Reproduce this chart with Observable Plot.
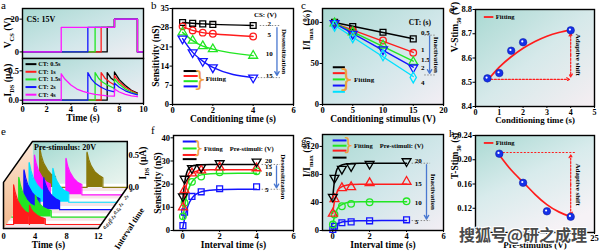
<!DOCTYPE html>
<html><head><meta charset="utf-8">
<script src="https://cdn.jsdelivr.net/npm/d3@7"></script>
<script src="https://cdn.jsdelivr.net/npm/@observablehq/plot@0.6"></script>
<style>
html,body{margin:0;padding:0;background:#fff;}
#root{position:relative;width:600px;height:252px;overflow:hidden;background:#fff;}
.lt{position:absolute;font-family:"Liberation Serif","Times New Roman",serif;font-size:11px;line-height:11px;}
.wm{position:absolute;font-family:"Noto Sans CJK SC",sans-serif;font-size:16px;line-height:16px;color:#4a4a4a;font-weight:bold;
 text-shadow:1px 1px 0 #fff,-1px -1px 0 #fff,1px -1px 0 #fff,-1px 1px 0 #fff;white-space:nowrap;}
</style></head><body><div id="root"></div>
<script>
// ---------------- DATA ----------------
// (a) conditioning-time protocol
const aCT = ["0.5s","1s","1.5s","2s","4s"];
const aStart = [7.0, 6.5, 6.0, 5.4, 3.2];
const aCondV = 15, aTestV = 20, aTestOn = 7.6, aTestOff = 9.5, aTmax = 10;
const aIdsT = [
  [0,7.0,7.0,7.3,7.6,7.6,8.0,8.5,9.0,9.5],
  [0,6.5,6.5,6.8,7.2,7.6,7.6,8.0,8.5,9.0,9.5],
  [0,6.0,6.0,6.3,6.6,7.0,7.6,7.6,8.0,8.5,9.0,9.5],
  [0,5.4,5.4,5.7,6.0,6.5,7.0,7.6,7.6,8.0,8.5,9.0,9.5],
  [0,3.2,3.2,3.5,4.0,4.5,5.0,5.5,6.0,6.5,7.0,7.6,7.6,8.0,8.5,9.0,9.5]
];
const aIdsI = [
  [0,0,0.47,0.38,0.33,0.48,0.35,0.25,0.17,0.12],
  [0,0,0.47,0.38,0.31,0.26,0.42,0.31,0.22,0.16,0.11],
  [0,0,0.47,0.37,0.31,0.26,0.20,0.36,0.27,0.19,0.14,0.10],
  [0,0,0.47,0.36,0.29,0.22,0.17,0.14,0.29,0.22,0.16,0.12,0.09],
  [0,0,0.45,0.36,0.26,0.19,0.15,0.12,0.10,0.085,0.075,0.07,0.19,0.14,0.10,0.075,0.06]
];
// (b) sensitivity vs conditioning time
const bTimes = [0.5, 1, 1.5, 2, 4];
const bCS = ["2","5","10","15"];
const bSens = [
  [29.9,29.6,29.4,29.2,28.8],
  [28.5,27.0,26.2,25.8,24.8],
  [26.3,23.3,21.3,20.2,17.8],
  [24.0,19.0,15.8,13.5,9.8]
];
// (c) I/Imax vs conditioning stimulus
const cStim = [2, 5, 10, 15];
const cCT = ["0.5","1","1.5","2","4"];
const cRatio = [
  [100,95,88,80],
  [99,90,78,63],
  [99,88,72,52],
  [99,86,67,45],
  [96,82,60,33]
];
// (d) V-Stim50 vs conditioning time
const dTimes = [0.5, 1, 1.5, 2, 4];
const dVstim = [8.516, 8.538, 8.630, 8.665, 8.714];
const dFitT = [0.5, 1, 1.5, 2, 2.5, 3, 3.5, 4];
const dFitV = [8.507, 8.562, 8.605, 8.640, 8.668, 8.690, 8.705, 8.716];
// (e) waterfall of interval-time responses
const eIntervals = ["0.01s","0.1s","0.5s","1s","2s","4s"];
const eIntervalS = [0.01, 0.1, 0.5, 1, 2, 4];
const ePulseT = [0, 0.2, 0.5, 1, 1.5, 2];
const ePre = [0.62, 0.50, 0.38, 0.27, 0.20, 0.17];
const eTest = [
  [0.30,0.24,0.19,0.14,0.11,0.09],
  [0.34,0.27,0.21,0.15,0.12,0.10],
  [0.50,0.40,0.31,0.22,0.17,0.14],
  [0.53,0.42,0.33,0.23,0.18,0.15],
  [0.57,0.45,0.35,0.25,0.19,0.16],
  [0.55,0.44,0.34,0.24,0.19,0.15]
];
const ePreOn = 0.9, eTmax = 12, eTicks = [0, 4, 8, 12], eYTicks = [0, 0.5];
// (f),(g) vs interval time
const fgInterval = [0.01, 0.1, 0.5, 1, 2, 4];
const fgPre = ["5","10","15","20"];
const fSens = [
  [2.1, 7.9, 14.7, 16.7, 18.0, 18.9],
  [6.1, 12.0, 21.0, 23.3, 25.1, 25.6],
  [10.0, 17.5, 24.7, 26.0, 27.3, 26.9],
  [14.7, 22.3, 26.9, 27.3, 29.0, 29.7]
];
const fitX = [0, 0.1, 0.2, 0.3, 0.5, 0.75, 1, 1.5, 2, 3, 4];
const fFit = [
  [1, 5, 8.5, 11, 14, 15.8, 16.7, 17.4, 17.6, 17.8, 17.8],
  [5, 10, 14.5, 17.5, 21, 23, 24, 24.5, 24.6, 24.7, 24.7],
  [9, 15, 19.5, 22, 24.5, 25.6, 26, 26.2, 26.2, 26.2, 26.2],
  [13, 20.5, 24.5, 26.5, 27.8, 28.2, 28.4, 28.5, 28.5, 28.5, 28.5]
];
const gRatio = [
  [1.4, 6, 11, 12.3, 13.8, 15.2],
  [8.5, 22.8, 34.6, 38, 40.3, 41.7],
  [24.2, 45, 60.7, 62, 67.8, 69.7],
  [48, 75, 87.8, 91.6, 95, 98.7]
];
const gFit = [
  [1, 5, 8, 10, 12, 13, 13.5, 13.8, 14, 14.2, 14.2],
  [8, 20, 28, 33, 37, 39.5, 40.5, 41, 41, 41.2, 41.2],
  [24, 42, 52, 58, 62.5, 64.5, 65.5, 66, 66, 66, 66],
  [45, 72, 85, 90, 93.5, 95, 95.5, 96, 96, 96, 96]
];
// (h) T-Stim50 vs pre-stimulus
const hPre = [5, 10, 15, 20];
const hTstim = [0.210, 0.162, 0.115, 0.106];
const hFitX = [5, 7.5, 10, 12.5, 15, 17.5, 20];
const hFitY = [0.208, 0.183, 0.163, 0.143, 0.126, 0.114, 0.106];
const hTicks = [0, 5, 10, 15, 20, 25];

// ---------------- STYLE / HELPERS ----------------
const SERIF = '"Liberation Serif","Times New Roman",serif';
const COL = {black:"#000000", red:"#ff1c1c", green:"#22e622", blue:"#1414ff", cyan:"#00e0ff",
  magenta:"#ff14ff", olive:"#8a7a0a", orange:"#f0a040", arrow:"#4a78d0", dot:"#8a8a8a", ball:"#1530e8"};
const root = document.getElementById("root");
const baseStyle = {fontFamily:SERIF, fontWeight:"bold", fontSize:"8.5px", background:"transparent", overflow:"visible", color:"#000"};
const XLAB = 9.5, XLDY = 17;
function place(node, left, top){ node.style.position="absolute"; node.style.left=left+"px"; node.style.top=top+"px"; root.appendChild(node); return node; }
function grad(svg, id, stops, dir){
  const d = dir || [0,0,1,1];
  const defs = d3.select(svg).insert("defs", ":first-child");
  const g = defs.append("linearGradient").attr("id", id)
    .attr("x1",d[0]).attr("y1",d[1]).attr("x2",d[2]).attr("y2",d[3]);
  stops.forEach(([o,c]) => g.append("stop").attr("offset", o).attr("stop-color", c));
}
function rich(svg, x, y, parts, o){
  o = o || {};
  const size = o.size || 10;
  const t = d3.select(svg).append("text")
    .attr("transform", `translate(${x},${y}) rotate(${o.rotate||0})`)
    .attr("text-anchor", o.anchor || "middle").attr("dominant-baseline","central")
    .style("font-family", SERIF).style("font-weight","bold").style("font-size", size+"px")
    .attr("fill", o.fill || "#000");
  let shifted = false;
  parts.forEach(p => {
    const sub = Array.isArray(p);
    const ts = t.append("tspan").text(sub ? p[0] : p);
    if (sub) { ts.style("font-size", (size*0.68)+"px"); if (!shifted) { ts.attr("dy", size*0.3); shifted = true; } }
    else if (shifted) { ts.attr("dy", -size*0.3); shifted = false; }
  });
}
function T(x, y, text, opts){ return Plot.text([{x, y, text}], Object.assign({x:"x", y:"y", text:"text"}, opts||{})); }
function axX(ticks, fmt, fs){ return Plot.axisX({ticks, tickSize:2, tickPadding:0.5, label:null, fontSize: fs || 8.5, tickFormat: fmt || (d=>String(d))}); }
function axY(ticks, fmt){ return Plot.axisY({ticks, tickSize:2.5, tickPadding:1, label:null, tickFormat: fmt || (d=>String(d))}); }
const BG = [[0,"#a9d9d2"],[0.55,"#d2e7ea"],[1,"#f3eef4"]];
const frameLine = () => Plot.frame({stroke:"#000", strokeWidth:1.4});

// ---------------- (a) ----------------
{
  const aColors = [COL.black, COL.red, COL.green, COL.blue, COL.magenta];
  const vcs = aStart.flatMap((s,i) => [[0,0],[s,0],[s,aCondV],[aTestOn,aCondV],[aTestOn,aTestV],[aTestOff,aTestV],[aTestOff,0],[aTmax,0]]
    .map(([t,v]) => ({t, v, i, c:aColors[i]})));
  const top = Plot.plot({width:150, height:58, marginLeft:22, marginRight:7, marginTop:8, marginBottom:0, style:baseStyle,
    x:{domain:[0,10], axis:null}, y:{domain:[-4,26.5]}, color:{type:"identity"},
    marks:[
      Plot.frame({fill:"url(#gaTop)"}),
      Plot.line(vcs, {x:"t", y:"v", z:"i", stroke:"c", strokeWidth:1.3}),
      axY([0,20]),
      Plot.text(["CS: 15V"], {frameAnchor:"top-left", dx:4, dy:8, textAnchor:"start", fontSize:8}),
      frameLine()
    ]});
  grad(top, "gaTop", BG, [0,0,1,1]);
  rich(top, 8, 33, ["V", ["CS"], " (V)"], {rotate:-90, size:9.5});
  place(top, 0, 0);

  const ids = aIdsT.flatMap((ts,i) => ts.map((t,j) => ({t, I:aIdsI[i][j], i, c:aColors[i]})));
  const leg = aCT.map((l,i) => ({y:0.614 - i*0.13, l:"CT: "+l, c:aColors[i]}));
  const bot = Plot.plot({width:150, height:68, marginLeft:22, marginRight:7, marginTop:0, marginBottom:23, style:baseStyle,
    x:{domain:[0,10]}, y:{domain:[-0.056,0.71]}, color:{type:"identity"},
    marks:[
      Plot.frame({fill:"url(#gaBot)"}),
      Plot.line(ids, {x:"t", y:"I", z:"i", stroke:"c", strokeWidth:1.3}),
      Plot.link(leg, {x1:0.25, x2:1.15, y1:"y", y2:"y", stroke:"c", strokeWidth:2}),
      Plot.text(leg, {x:1.3, y:"y", text:"l", textAnchor:"start", fontSize:6.3}),
      axX([0,2,4,6,8,10]), axY([0,0.5], d3.format(".1f")),
      Plot.text(["Time (s)"], {frameAnchor:"bottom", dy:XLDY, fontSize:XLAB}),
      frameLine()
    ]});
  grad(bot, "gaBot", BG, [0,0,1,1]);
  rich(bot, 8, 22, ["I", ["DS"], " (\u00b5A)"], {rotate:-90, size:9.5});
  place(bot, 0, 58);
}

// ---------------- (b) ----------------
{
  const cols = [COL.black, COL.red, COL.green, COL.blue];
  const sym = [["square",0],["circle",0],["triangle",0],["triangle",180]];
  const pts = bCS.flatMap((cs,i) => bTimes.map((t,j) => ({t, s:bSens[i][j], i, c:cols[i]})));
  const last = bCS.map((cs,i) => ({x:bTimes[bTimes.length-1], y:bSens[i][bTimes.length-1], l:cs}));
  const legY = [12.2, 10.4, 8.5, 6.6];
  const yTop = last[0].y, yBot = last[3].y;
  const marks = [
    Plot.frame({fill:"#fff"}),
    Plot.line(pts, {x:"t", y:"s", z:"i", stroke:"c", curve:"monotone-x", strokeWidth:1.4}),
    ...sym.map(([s,r],i) => Plot.dot(pts.filter(d=>d.i===i), {x:"t", y:"s", symbol:s, rotate:r, r:3.3, stroke:cols[i], strokeWidth:1.3, fill:"none"})),
    Plot.text(last, {x:4.8, y:"y", text:"l", dy:-2, fontSize:7}),
    T(4.6, 32.6, "CS: (V)", {fontSize:7}),
    Plot.ruleY([yTop], {x1:4.35, x2:5.35, stroke:COL.dot, strokeDasharray:"1.5,1.5"}),
    Plot.ruleY([yBot], {x1:4.25, x2:5.35, stroke:COL.dot, strokeDasharray:"1.5,1.5"}),
    Plot.arrow([{}], {x1:5.18, x2:5.18, y1:yTop-0.8, y2:yBot+0.8, stroke:COL.arrow, strokeWidth:1.3, headLength:5}),
    T(5.55, (yTop+yBot)/2, "Desensitization", {rotate:90, fontSize:7}),
    Plot.link(legY.map((y,i)=>({y, c:cols[i]})), {x1:0.55, x2:1.25, y1:"y", y2:"y", stroke:"c", strokeWidth:2}),
    T(1.36, 9.3, "}", {fontSize:21, fill:COL.orange, fontWeight:"normal", fontFamily:"DejaVu Sans"}),
    T(1.65, 9.3, "Fitting", {textAnchor:"start", fontSize:7}),
    axX([0,2,4,6]), axY([0,7,14,21,28,35]),
    Plot.text(["Conditioning time (s)"], {frameAnchor:"bottom", dy:XLDY, fontSize:XLAB}),
    frameLine()
  ];
  const p = Plot.plot({width:150, height:126, marginLeft:22, marginRight:7, marginTop:8, marginBottom:22, style:baseStyle,
    x:{domain:[0,6]}, y:{domain:[0,35]}, color:{type:"identity"}, marks});
  rich(p, 6, 56, ["Sensitivity (nS)"], {rotate:-90, size:9.5});
  place(p, 150, 0);
}

// ---------------- (c) ----------------
{
  const cols = [COL.black, COL.red, COL.green, COL.blue, COL.cyan];
  const sym = [["square",0],["circle",0],["triangle",0],["triangle",180],["diamond",0]];
  const pts = cCT.flatMap((ct,i) => cStim.map((x,j) => ({x, y:cRatio[i][j], i, c:cols[i]})));
  const n = cStim.length - 1;
  const labY = [87.8, 66.8, 55, 44.5, 27];
  const yTop = cRatio[0][n] + 4.5, yBot = cRatio[4][n] + 3;
  const legY = [45.4, 38.2, 30.6, 23.1, 15.5];
  const p = Plot.plot({width:150, height:126, marginLeft:22, marginRight:7, marginTop:8, marginBottom:22, style:baseStyle,
    x:{domain:[0,20]}, y:{domain:[0,117]}, color:{type:"identity"},
    marks:[
      Plot.frame({fill:"url(#gc)"}),
      ...cols.map((c,i) => Plot.linearRegressionY(pts.filter(d=>d.i===i), {x:"x", y:"y", stroke:c, ci:0, strokeWidth:1.4})),
      ...sym.map(([s,r],i) => Plot.dot(pts.filter(d=>d.i===i), {x:"x", y:"y", symbol:s, rotate:r, r:3.3, stroke:cols[i], strokeWidth:1.3, fill:"none"})),
      Plot.text(cCT.map((l,i)=>({l, y:labY[i]})), {x:16.3, y:"y", text:"l", textAnchor:"start", fontSize:7}),
      T(16.1, 100, "CT: (s)", {fontSize:7.5}),
      Plot.ruleY([yTop], {x1:16.9, x2:18.8, stroke:COL.dot, strokeDasharray:"1.5,1.5"}),
      Plot.ruleY([yBot], {x1:16.9, x2:18.8, stroke:COL.dot, strokeDasharray:"1.5,1.5"}),
      Plot.arrow([{}], {x1:17.7, x2:17.7, y1:yTop-1, y2:yBot+2, stroke:COL.arrow, strokeWidth:1.3, headLength:5}),
      T(18.85, 60.5, "Inactivation", {rotate:90, fontSize:7}),
      Plot.link(legY.map((y,i)=>({y, c:cols[i]})), {x1:1.7, x2:3.7, y1:"y", y2:"y", stroke:"c", strokeWidth:2}),
      T(3.95, 30.5, "}", {fontSize:24, fill:COL.orange, fontWeight:"normal", fontFamily:"DejaVu Sans"}),
      T(5.2, 30.5, "Fitting", {textAnchor:"start", fontSize:7}),
      axX([0,5,10,15,20]), axY([0,50,100]),
      Plot.text(["Conditioning stimulus (V)"], {frameAnchor:"bottom", dy:XLDY, fontSize:XLAB}),
      frameLine()
    ]});
  grad(p, "gc", BG, [0,0,1,1]);
  rich(p, 7, 30, ["I/I", ["max"], " (%)"], {rotate:-90, size:9.5});
  place(p, 300, 0);
}

// ---------------- (d) ----------------
{
  const pts = dTimes.map((t,j) => ({t, v:dVstim[j]}));
  const fit = dFitT.map((t,j) => ({t, v:dFitV[j]}));
  const x0 = dTimes[0], x1 = dTimes[dTimes.length-1], y0 = dVstim[0] - 0.004, y1 = dVstim[dVstim.length-1];
  const p = Plot.plot({width:150, height:126, marginLeft:25, marginRight:6, marginTop:9, marginBottom:20, style:baseStyle,
    x:{domain:[0,5]}, y:{domain:[8.4,8.8]},
    marks:[
      Plot.frame({fill:"url(#gd)"}),
      Plot.arrow([{}], {x1:x0, x2:x1-0.05, y1:y0, y2:y0, stroke:COL.red, strokeWidth:1.2, strokeDasharray:"2,1.5", headLength:4}),
      Plot.arrow([{}], {x1:x1, x2:x1, y1:(y0+y1)/2, y2:y1-0.012, stroke:COL.red, strokeWidth:1.2, strokeDasharray:"2,1.5", headLength:4}),
      Plot.arrow([{}], {x1:x1, x2:x1, y1:(y0+y1)/2, y2:y0+0.01, stroke:COL.red, strokeWidth:1.2, strokeDasharray:"2,1.5", headLength:4}),
      Plot.line(fit, {x:"t", y:"v", stroke:COL.red, strokeWidth:1.7, curve:"natural"}),
      Plot.dot(pts, {x:"t", y:"v", r:3.8, fill:COL.ball, stroke:"#0a1a9a", strokeWidth:0.5}),
      Plot.dot(pts, {x:"t", y:"v", r:1.1, fill:"#fff", dx:-0.8, dy:-0.8}),
      T(4.33, (y0+y1)/2, "Adaptive shift", {rotate:90, fontSize:7}),
      Plot.link([{}], {x1:0.35, x2:0.75, y1:8.769, y2:8.769, stroke:COL.red, strokeWidth:1.8}),
      T(0.85, 8.769, "Fitting", {textAnchor:"start", fontSize:6.5}),
      axX([0,1,2,3,4,5], null, 8),
      axY([8.4,8.5,8.6,8.7,8.8], d3.format(".1f")),
      Plot.text(["Conditioning time (s)"], {frameAnchor:"bottom", dy:16.8, fontSize:8.8}),
      frameLine()
    ]});
  grad(p, "gd", [[0,"#a9d9d2"],[0.5,"#d6e9ea"],[1,"#f6eef2"]], [0,0,1,1]);
  rich(p, 5, 27, ["V-Stim", ["50"], " (V)"], {rotate:-90, size:9.5});
  place(p, 450, 0);
}

// ---------------- (e) ----------------
{
  const cols = [COL.red, COL.green, COL.blue, COL.cyan, COL.magenta, COL.olive];
  const DX = 0.66, DY = 0.116, X0 = 0.38, Y0 = 0.0625, BX = 3.67, BY = 0.64, BH = 0.72;
  const len = ePulseT[ePulseT.length-1];
  const series = eIntervalS.map((dt,k) => {
    const tOn = ePreOn + len + dt;
    const raw = [[0,0],[ePreOn,0], ...ePulseT.map((u,j)=>[ePreOn+u, ePre[j]]), [ePreOn+len,0],
      [tOn,0], ...ePulseT.map((u,j)=>[tOn+u, eTest[k][j]]), [tOn+len,0], [eTmax,0]];
    const B = Y0 + k*DY, ox = X0 + k*DX;
    return raw.map(([t,I]) => ({X:t+ox, B, Y:B+I, k, c:cols[k]}));
  });
  const poly = (pts) => pts.map(([X,Y]) => ({X, Y}));
  const floor = poly([[0,0],[eTmax,0],[eTmax+BX,BY],[BX,BY],[0,0]]);
  const back = poly([[BX,BY],[eTmax+BX,BY],[eTmax+BX,BY+BH],[BX,BY+BH],[BX,BY]]);
  const left = poly([[0,0],[0,BH],[BX,BY+BH],[BX,BY],[0,0]]);
  const edges = [
    poly([[0,0],[0,BH],[BX,BY+BH],[eTmax+BX,BY+BH]]),
    poly([[0,0],[eTmax,0],[eTmax+BX,BY],[eTmax+BX,BY+BH]])
  ];
  const marks = [
    Plot.line(floor, {x:"X", y:"Y", fill:"#f6e4e8", stroke:"none"}),
    Plot.line(back, {x:"X", y:"Y", fill:"url(#geBack)", stroke:"none"}),
    Plot.line(left, {x:"X", y:"Y", fill:"url(#geLeft)", stroke:"none"}),
  ];
  for (let k = series.length-1; k >= 0; k--) {
    const s = series[k];
    marks.push(Plot.link([{}], {x1:s[0].X+0.25, x2:s[s.length-1].X+0.25, y1:s[0].B+0.035, y2:s[0].B+0.035, stroke:"#ffffff", strokeWidth:3}));
    marks.push(Plot.areaY(s, {x:"X", y1:"B", y2:"Y", fill:cols[k]}));
    marks.push(Plot.line(s, {x:"X", y:"Y", stroke:cols[k], strokeWidth:1.2}));
  }
  edges.forEach(e => marks.push(Plot.line(e, {x:"X", y:"Y", stroke:"#000", strokeWidth:1.5})));
  marks.push(
    Plot.text(eTicks, {x:d=>d, y:-0.12, text:d=>String(d), fontSize:8.5}),
    Plot.text(eYTicks, {x:eTmax+BX+0.15, y:d=>BY+d, text:d=>d3.format(".1f")(d), textAnchor:"start", fontSize:8.5}),
    T(5.7, -0.26, "Time (s)", {fontSize:9.5}),
    T(BX+0.2, BY+BH-0.1, "Pre-stimulus: 20V", {textAnchor:"start", fontSize:8}),
    Plot.text(eIntervals.map((l,k)=>({l, X:eTmax+X0+k*DX+0.3, Y:Y0+k*DY-0.06})), {x:"X", y:"Y", text:"l", rotate:-40, textAnchor:"start", fontSize:5, fontStyle:"italic"}),
    T(eTmax+BX+0.25, 0.0, "Interval time", {rotate:-57, fontSize:8.5})
  );
  const p = Plot.plot({width:150, height:126, style:baseStyle,
    x:{domain:[0,12], range:[3,97.8], axis:null}, y:{domain:[0,0.5], range:[102,70], axis:null}, color:{type:"identity"},
    marks});
  grad(p, "geBack", [[0,"#9fd8cf"],[0.6,"#d4ece6"],[1,"#eef6f0"]], [0,0,1,1]);
  grad(p, "geLeft", [[0,"#fbe6d8"],[0.5,"#f7cfae"],[1,"#f3b88e"]], [0,0,0,1]);
  rich(p, 143, 37, ["I", ["DS"], " (\u00b5A)"], {rotate:-90, size:9.5});
  place(p, 0, 126);
}

// ---------------- (f) & (g) ----------------
function intervalPanel(vals, fits, opts) {
  const cols = [COL.blue, COL.green, COL.red, COL.black];
  const sym = [["square",0],["circle",0],["triangle",0],["triangle",180]];
  const pts = fgPre.flatMap((v,i) => fgInterval.map((x,j) => ({x, y:vals[i][j], i})));
  const fit = fgPre.flatMap((v,i) => fitX.map((x,j) => ({x, y:fits[i][j], i, c:cols[i]})));
  const legCols = [COL.blue, COL.green, COL.red, COL.black];
  const yTop = fits[3][fitX.length-1], yBot = fits[0][fitX.length-1];
  const p = Plot.plot({width:150, height:126, marginLeft:opts.ml, marginRight:7, marginTop:opts.mt, marginBottom:22, style:baseStyle,
    x:{domain:[opts.x0,6]}, y:{domain:opts.ydom}, color:{type:"identity"},
    marks:[
      Plot.frame({fill: opts.bg}),
      Plot.line(fit, {x:"x", y:"y", z:"i", stroke:"c", curve:"monotone-x", strokeWidth:1.5}),
      ...sym.map(([s,r],i) => Plot.dot(pts.filter(d=>d.i===i), {x:"x", y:"y", symbol:s, rotate:r, r:3.3, stroke:cols[i], strokeWidth:1.3, fill:"none"})),
      Plot.text(fgPre.map((l,i)=>({l, y:opts.labY[i]})), {x:4.45, y:"y", text:"l", textAnchor:"start", fontSize:7}),
      Plot.ruleY([yTop], {x1:4.3, x2:5.3, stroke:COL.dot, strokeDasharray:"1.5,1.5"}),
      Plot.ruleY([yBot], {x1:4.3, x2:5.3, stroke:COL.dot, strokeDasharray:"1.5,1.5"}),
      Plot.arrow([{}], {x1:5.08, x2:5.08, y1:yTop-opts.ad, y2:yBot+opts.ad, stroke:COL.arrow, strokeWidth:1.3, headLength:5}),
      T(5.45, (yTop+yBot)/2, opts.arrowText, {rotate:90, fontSize:7}),
      Plot.link(opts.legY.map((y,i)=>({y, c:legCols[i]})), {x1:0.0, x2:0.75, y1:"y", y2:"y", stroke:"c", strokeWidth:2}),
      T(0.85, opts.legY[1], "}", {fontSize:17, fill:COL.orange, fontWeight:"normal", fontFamily:"DejaVu Sans"}),
      T(1.15, opts.legY[1], "Fitting", {textAnchor:"start", fontSize:6.5}),
      T(2.55, opts.legY[1], "Pre-stimuli: (V)", {textAnchor:"start", fontSize:6.5}),
      axX([0,2,4,6]), axY(opts.yticks),
      Plot.text(["Interval time (s)"], {frameAnchor:"bottom", dy:XLDY, fontSize:XLAB}),
      frameLine()
    ]});
  return p;
}
{
  const f = intervalPanel(fSens, fFit, {ml:23, mt:9, x0:-0.5, ydom:[0,41], yticks:[0,10,20,30,40], bg:"#fff",
    labY:[17.6, 24.4, 27.4, 30.2], legY:[38.4, 35.4, 32.6, 30.8], ad:0.6, arrowText:"Desensitization"});
  rich(f, 8, 57, ["Sensitivity (nS)"], {rotate:-90, size:9.5});
  place(f, 150, 126);

  const g = intervalPanel(gRatio, gFit, {ml:22, mt:8, x0:-0.55, ydom:[0,137], yticks:[0,40,80,120], bg:"url(#gg)",
    labY:[12.8, 40, 67, 99.6], legY:[128.5, 121, 114, 104], ad:2, arrowText:"Inactivation"});
  grad(g, "gg", BG, [0,0,1,1]);
  rich(g, 7, 31, ["I/I", ["max"], " (%)"], {rotate:-90, size:9.5});
  place(g, 300, 126);
}

// ---------------- (h) ----------------
{
  const pts = hPre.map((x,j) => ({x, y:hTstim[j]}));
  const fit = hFitX.map((x,j) => ({x, y:hFitY[j]}));
  const x0 = hPre[0], x1 = hPre[hPre.length-1], yT = hTstim[0] + 0.002, yB = hTstim[hTstim.length-1];
  const p = Plot.plot({width:150, height:126, marginLeft:25, marginRight:6, marginTop:9, marginBottom:20, style:baseStyle,
    x:{domain:[0,25]}, y:{domain:[0.08,0.24]},
    marks:[
      Plot.frame({fill:"url(#gh)"}),
      Plot.link([{}], {x1:x0, x2:x1+1, y1:yT, y2:yT, stroke:COL.red, strokeWidth:1.2, strokeDasharray:"2,1.5"}),
      Plot.arrow([{}], {x1:x1, x2:x1, y1:(yT+yB)/2, y2:yT-0.004, stroke:COL.red, strokeWidth:1.2, strokeDasharray:"2,1.5", headLength:4}),
      Plot.arrow([{}], {x1:x1, x2:x1, y1:(yT+yB)/2, y2:yB+0.003, stroke:COL.red, strokeWidth:1.2, strokeDasharray:"2,1.5", headLength:4}),
      Plot.line(fit, {x:"x", y:"y", stroke:COL.red, strokeWidth:1.7, curve:"natural"}),
      Plot.dot(pts, {x:"x", y:"y", r:3.8, fill:COL.ball, stroke:"#0a1a9a", strokeWidth:0.5}),
      Plot.dot(pts, {x:"x", y:"y", r:1.1, fill:"#fff", dx:-0.8, dy:-0.8}),
      T(x1+1.6, (yT+yB)/2, "Adaptive shift", {rotate:90, fontSize:7}),
      Plot.link([{}], {x1:1.75, x2:3.75, y1:0.2277, y2:0.2277, stroke:COL.red, strokeWidth:1.8}),
      T(4.25, 0.2277, "Fitting", {textAnchor:"start", fontSize:6.5}),
      axX(hTicks, d => d === hTicks[hTicks.length-1] ? String(d) : ""),
      axY([0.12,0.16,0.20,0.24], d3.format(".2f")),
      Plot.text(["Pre-stimulus (V)"], {frameAnchor:"bottom", dy:15.5, fontSize:9}),
      frameLine()
    ]});
  grad(p, "gh", [[0,"#a9d9d2"],[0.5,"#d8ebec"],[1,"#f6f2f6"]], [0,0,0.6,1]);
  rich(p, 5, 30, ["T-Stim", ["50"], " (s)"], {rotate:-90, size:9.5});
  place(p, 450, 126);
}

// ---------------- panel letters & watermark ----------------
[["a",1,0],["b",151,0],["c",301,0],["d",449,4],["e",1,126],["f",151,125],["g",301,136],["h",449,128]].forEach(([l,x,y]) => {
  const d = document.createElement("div"); d.className = "lt"; d.textContent = l; place(d, x, y);
});
const wm = document.createElement("div"); wm.className = "wm"; wm.textContent = "搜狐号@研之成理"; place(wm, 459, 226);
</script></body></html>
